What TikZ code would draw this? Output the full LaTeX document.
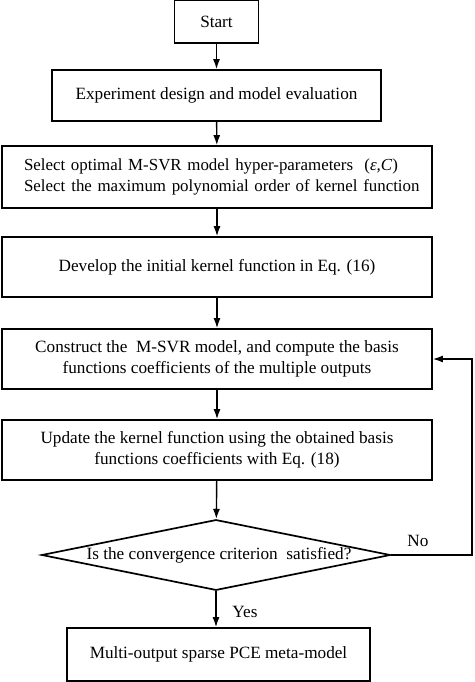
\documentclass[tikz,border=0pt]{standalone}
\usepackage{fontspec}
\setmainfont{Liberation Serif}
\usetikzlibrary{shapes.geometric,arrows.meta}
\begin{document}
\begin{tikzpicture}[x=1pt,y=-1pt,
  box/.style={draw,line width=1.7pt,minimum width=#1,inner sep=0pt,align=center,font=\fontsize{17.2}{20.5}\selectfont},
  flow/.style={line width=1.4pt,-{Latex[length=10pt,width=7pt]}},
  lbl/.style={font=\fontsize{17.2}{20.5}\selectfont,inner sep=0pt}]
\useasboundingbox (0,0) rectangle (474,682);
\node[box=84pt,minimum height=43pt] (start) at (216.5,21.5) {Start};
\node[box=329pt,minimum height=51pt] (exp) at (216.5,95.5) {Experiment design and model evaluation};
\node[box=430pt,minimum height=62pt,align=left,text width=386pt,font=\fontsize{16.9}{20.5}\selectfont] (sel) at (217,177) {\mbox{Select optimal M-SVR model hyper-parameters\ \ (\textit{ε,C})}\\\mbox{Select\hspace{6pt}the maximum polynomial order of kernel function}};
\node[box=430pt,minimum height=60pt] (dev) at (217,267) {Develop the initial kernel function in Eq. (16)};
\node[box=430pt,minimum height=60pt] (con) at (217,359) {Construct the\ \ M-SVR model, and compute the basis\\functions coefficients of the multiple outputs};
\node[box=430pt,minimum height=60pt] (upd) at (217,450) {Update the kernel function using the obtained basis\\functions coefficients with Eq. (18)};
\node[box=346pt,diamond,aspect=4.94,minimum height=70pt,inner sep=0pt] (dia) at (216,555) {\hspace{6pt}Is the convergence criterion\ \ satisfied?};
\node[box=303pt,minimum height=53pt] (fin) at (218.5,654.5) {Multi-output sparse PCE meta-model};
\coordinate (fb) at (472,555);
\draw[flow] (start) -- (exp);
\draw[flow] (exp) -- (sel);
\draw[flow] (sel) -- (dev);
\draw[flow] (dev) -- (con);
\draw[flow] (con) -- (upd);
\draw[flow] (upd) -- (dia);
\draw[flow] (dia.south) -- (fin.north -| dia.south);
\draw[flow] (dia.east) -- (fb) |- (con.east);
\node[lbl] (no) at (418,541) {No};
\node[lbl] (yes) at (245,612) {Yes};
\end{tikzpicture}
\end{document}
